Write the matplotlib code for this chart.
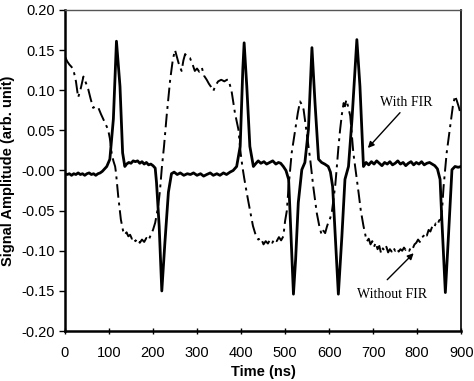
import numpy as np
import matplotlib
matplotlib.use('Agg')
import matplotlib.pyplot as plt

# "With FIR" trace (solid)
t_fir = [0, 5, 10, 15, 20, 25, 30, 35, 40, 45, 50, 55, 60, 65, 70, 75, 80, 85, 90, 95,
         102, 110, 117, 125, 131, 136, 140, 145, 150, 155, 160, 165, 170, 175, 180, 185,
         190, 195, 200, 205, 208, 214, 220, 227, 235, 242, 248, 255, 262, 270, 278, 285,
         292, 300, 308, 315, 322, 330, 337, 345, 352, 360, 367, 375, 382, 390, 398, 404,
         407, 413, 420, 428, 434, 439, 445, 452, 458, 465, 472, 479, 485, 490, 496, 502,
         508, 511, 519, 524, 530, 538, 545, 553, 561, 568, 576, 583, 590, 598, 603, 608,
         614, 621, 629, 636, 644, 652, 663, 670, 678, 684, 690, 696, 702, 708, 714, 720,
         726, 732, 738, 744, 750, 756, 762, 768, 774, 780, 786, 792, 798, 804, 810, 816,
         822, 828, 834, 840, 846, 852, 856, 864, 871, 879, 886, 893, 900]
v_fir = [-0.004, -0.005, -0.004, -0.006, -0.004, -0.005, -0.003, -0.005, -0.004, -0.006,
         -0.004, -0.003, -0.005, -0.004, -0.006, -0.004, -0.003, -0.001, 0.002, 0.005,
         0.014, 0.064, 0.161, 0.105, 0.022, 0.005, 0.008, 0.010, 0.009, 0.012, 0.011, 0.012,
         0.009, 0.011, 0.008, 0.010, 0.007, 0.008, 0.006, 0.003, -0.015, -0.069, -0.150,
         -0.090, -0.027, -0.004, -0.002, -0.005, -0.003, -0.006, -0.004, -0.005, -0.003,
         -0.006, -0.004, -0.007, -0.005, -0.003, -0.006, -0.004, -0.006, -0.003, -0.005,
         -0.002, 0.000, 0.005, 0.030, 0.126, 0.159, 0.105, 0.030, 0.005, 0.009, 0.012, 0.009,
         0.011, 0.008, 0.010, 0.012, 0.008, 0.010, 0.009, 0.005, 0.000, -0.011, -0.049,
         -0.154, -0.110, -0.040, 0.001, 0.010, 0.051, 0.153, 0.084, 0.014, 0.010, 0.008,
         0.005, -0.002, -0.020, -0.082, -0.154, -0.082, -0.011, 0.005, 0.064, 0.163, 0.105,
         0.005, 0.010, 0.007, 0.011, 0.008, 0.012, 0.009, 0.006, 0.010, 0.008, 0.011, 0.007,
         0.009, 0.012, 0.008, 0.010, 0.006, 0.009, 0.011, 0.007, 0.010, 0.008, 0.011, 0.007,
         0.009, 0.010, 0.008, 0.006, 0.002, -0.011, -0.061, -0.152, -0.082, 0.001, 0.005,
         0.004, 0.005]

# "Without FIR" trace (dash-dot)
t_raw = [0, 5, 10, 15, 19, 25, 30, 35, 42, 47, 53, 58, 64, 70, 76, 82, 87, 92, 98, 102,
         106, 110, 114, 116, 121, 127, 132, 136, 140, 144, 148, 152, 156, 160, 165, 170,
         175, 180, 185, 190, 195, 200, 205, 212, 216, 220, 225, 231, 239, 245, 250, 254,
         258, 262, 265, 269, 273, 278, 284, 290, 295, 300, 305, 311, 316, 322, 327, 332,
         337, 342, 348, 355, 362, 368, 371, 375, 379, 386, 394, 399, 403, 407, 412, 417,
         427, 433, 439, 445, 451, 456, 461, 466, 471, 476, 481, 486, 491, 496, 500, 504,
         508, 515, 523, 529, 534, 538, 542, 549, 557, 564, 572, 578, 583, 587, 591, 595,
         598, 602, 606, 610, 614, 617, 621, 625, 629, 633, 636, 639, 643, 648, 655, 661,
         667, 672, 678, 683, 686, 690, 694, 698, 702, 706, 710, 714, 718, 722, 726, 730,
         734, 738, 742, 746, 750, 754, 758, 762, 766, 770, 774, 778, 782, 786, 790, 794,
         798, 802, 806, 810, 814, 818, 822, 826, 830, 834, 838, 842, 846, 850, 854, 857,
         860, 867, 875, 881, 886, 890, 894, 898]
v_raw = [0.142, 0.136, 0.132, 0.129, 0.126, 0.111, 0.091, 0.100, 0.117, 0.110, 0.101, 0.090,
         0.078, 0.080, 0.078, 0.070, 0.064, 0.058, 0.051, 0.040, 0.022, 0.012, 0.005, -0.003,
         -0.032, -0.061, -0.075, -0.080, -0.077, -0.082, -0.080, -0.085, -0.083, -0.088,
         -0.085, -0.090, -0.086, -0.089, -0.084, -0.087, -0.080, -0.074, -0.065, -0.044,
         -0.024, 0.003, 0.030, 0.068, 0.113, 0.138, 0.150, 0.142, 0.134, 0.128, 0.124, 0.137,
         0.145, 0.141, 0.140, 0.132, 0.124, 0.127, 0.123, 0.128, 0.118, 0.113, 0.108, 0.104,
         0.099, 0.106, 0.111, 0.113, 0.111, 0.113, 0.113, 0.106, 0.097, 0.072, 0.051, 0.022,
         0.005, -0.009, -0.025, -0.040, -0.069, -0.080, -0.086, -0.084, -0.092, -0.088,
         -0.091, -0.086, -0.090, -0.085, -0.088, -0.083, -0.087, -0.082, -0.063, -0.050,
         -0.020, 0.022, 0.051, 0.072, 0.086, 0.082, 0.076, 0.047, 0.014, -0.020, -0.053,
         -0.070, -0.080, -0.075, -0.078, -0.070, -0.065, -0.060, -0.053, -0.036, -0.018,
         0.001, 0.028, 0.051, 0.070, 0.084, 0.080, 0.088, 0.080, 0.068, 0.022, -0.003,
         -0.028, -0.050, -0.069, -0.082, -0.088, -0.085, -0.092, -0.088, -0.095, -0.090,
         -0.098, -0.094, -0.103, -0.097, -0.100, -0.095, -0.102, -0.098, -0.101, -0.096,
         -0.100, -0.097, -0.101, -0.098, -0.100, -0.096, -0.099, -0.097, -0.100, -0.095,
         -0.097, -0.092, -0.090, -0.086, -0.089, -0.083, -0.082, -0.078, -0.081, -0.074,
         -0.076, -0.070, -0.072, -0.066, -0.068, -0.062, -0.061, -0.045, -0.020, 0.022,
         0.055, 0.080, 0.093, 0.087, 0.080, 0.072]

x_ticks = np.arange(0, 901, 100)
y_ticks = np.arange(-0.20, 0.201, 0.05)

plt.rcParams['font.family'] = 'Liberation Sans'

fig = plt.figure(figsize=(4.74, 3.81), dpi=100)
ax = fig.add_axes([0.137, 0.131, 0.836, 0.843])

ax.plot(t_raw, v_raw, color='black', lw=1.4, linestyle=(0, (7, 2.5, 1.5, 2.5)))
ax.plot(t_fir, v_fir, color='black', lw=2.0)

ax.set_xlim(0, 900)
ax.set_ylim(-0.20, 0.20)
ax.set_xticks(x_ticks)
ax.set_yticks(y_ticks)
ax.set_yticklabels(['%.2f' % v for v in y_ticks])
ax.tick_params(axis='both', labelsize=10.5, length=4, width=1, direction='out')
ax.tick_params(axis='x', direction='inout', pad=9)

ax.set_xlabel('Time (ns)', fontsize=10.5, fontweight='bold', labelpad=3)
ax.set_ylabel('Signal Amplitude (arb. unit)', fontsize=10.5, fontweight='bold', labelpad=4)

for s in ['left', 'bottom']:
    ax.spines[s].set_linewidth(1.8)
ax.spines['right'].set_linewidth(1.2)
ax.spines['top'].set_linewidth(1.0)
ax.spines['top'].set_color('#555555')

arrow = dict(arrowstyle='-|>', color='black', lw=1, mutation_scale=9, shrinkA=0, shrinkB=0)

ax.text(775, 0.085, 'With FIR', ha='center', va='center', fontsize=10,
        family='Liberation Serif')
ax.annotate('', xy=(688, 0.028), xytext=(761, 0.072), arrowprops=arrow)

ax.text(743, -0.155, 'Without FIR', ha='center', va='center', fontsize=10,
        family='Liberation Serif')
ax.annotate('', xy=(792, -0.103), xytext=(732, -0.136), arrowprops=arrow)

fig.savefig('out.png', dpi=100)
